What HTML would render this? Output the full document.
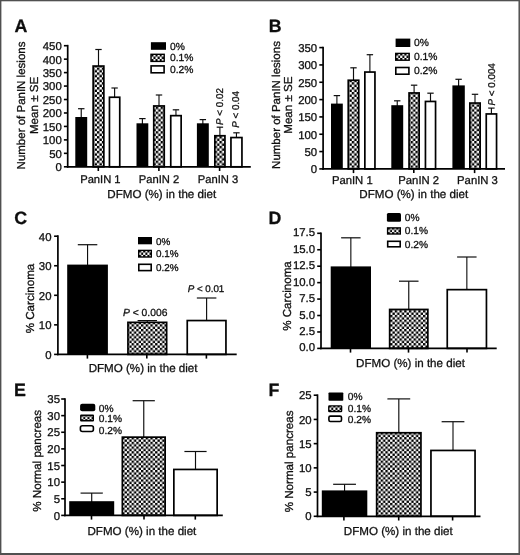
<!DOCTYPE html>
<html lang="en"><head><meta charset="utf-8"><title>Figure</title>
<style>
html,body{margin:0;padding:0;background:#fff;}
svg{display:block;font-family:"Liberation Sans", Arial, Helvetica, sans-serif;fill:#111;text-rendering:geometricPrecision;}
text{stroke:#111;stroke-width:0.3px;stroke-linejoin:round;}
</style></head><body>
<svg width="520" height="555" viewBox="0 0 520 555">
<defs><filter id="soft" x="0" y="0" width="520" height="555" filterUnits="userSpaceOnUse"><feGaussianBlur stdDeviation="0.4"/></filter><pattern id="chk" width="4.7" height="4.7" patternUnits="userSpaceOnUse"><rect width="4.7" height="4.7" fill="#fff"/><rect x="0" y="0" width="2.35" height="2.35" fill="#000"/><rect x="2.35" y="2.35" width="2.35" height="2.35" fill="#000"/></pattern><pattern id="chkA" x="92.05" y="67.5" width="4.9" height="4.9" patternUnits="userSpaceOnUse"><rect width="4.9" height="4.9" fill="#fff"/><rect x="0" y="0" width="2.45" height="2.45" fill="#000"/><rect x="2.45" y="2.45" width="2.45" height="2.45" fill="#000"/></pattern><pattern id="chk2" width="5" height="5" patternUnits="userSpaceOnUse"><rect width="5" height="5" fill="#fff"/><rect x="0" y="0" width="2.5" height="2.5" fill="#000"/><rect x="2.5" y="2.5" width="2.5" height="2.5" fill="#000"/></pattern></defs>
<rect x="0" y="0" width="520" height="555" fill="#fff"/>
<g filter="url(#soft)">
<g id="panel-A">
<text x="14.40" y="31.60" font-size="17.8" text-anchor="start" font-weight="bold">A</text>
<line x1="81.25" y1="108.70" x2="81.25" y2="118.00" stroke="#111" stroke-width="1.15"/>
<line x1="78.05" y1="108.70" x2="84.45" y2="108.70" stroke="#111" stroke-width="1.2"/>
<rect x="75.30" y="117.00" width="11.90" height="49.80" fill="#000"/>
<line x1="98.50" y1="49.50" x2="98.50" y2="66.20" stroke="#111" stroke-width="1.15"/>
<line x1="95.30" y1="49.50" x2="101.70" y2="49.50" stroke="#111" stroke-width="1.2"/>
<rect x="93.15" y="66.05" width="10.70" height="100.75" fill="url(#chkA)" stroke="#000" stroke-width="1.7"/>
<line x1="114.60" y1="88.00" x2="114.60" y2="97.40" stroke="#111" stroke-width="1.15"/>
<line x1="111.40" y1="88.00" x2="117.80" y2="88.00" stroke="#111" stroke-width="1.2"/>
<rect x="109.45" y="97.25" width="10.30" height="69.55" fill="#fff" stroke="#000" stroke-width="1.7"/>
<line x1="142.40" y1="118.60" x2="142.40" y2="124.30" stroke="#111" stroke-width="1.15"/>
<line x1="139.20" y1="118.60" x2="145.60" y2="118.60" stroke="#111" stroke-width="1.2"/>
<rect x="136.50" y="123.30" width="11.80" height="43.50" fill="#000"/>
<line x1="159.00" y1="95.00" x2="159.00" y2="106.10" stroke="#111" stroke-width="1.15"/>
<line x1="155.80" y1="95.00" x2="162.20" y2="95.00" stroke="#111" stroke-width="1.2"/>
<rect x="153.75" y="105.95" width="10.50" height="60.85" fill="url(#chkA)" stroke="#000" stroke-width="1.7"/>
<line x1="175.95" y1="109.80" x2="175.95" y2="115.80" stroke="#111" stroke-width="1.15"/>
<line x1="172.75" y1="109.80" x2="179.15" y2="109.80" stroke="#111" stroke-width="1.2"/>
<rect x="170.75" y="115.65" width="10.40" height="51.15" fill="#fff" stroke="#000" stroke-width="1.7"/>
<line x1="202.85" y1="119.60" x2="202.85" y2="124.30" stroke="#111" stroke-width="1.15"/>
<line x1="199.65" y1="119.60" x2="206.05" y2="119.60" stroke="#111" stroke-width="1.2"/>
<rect x="196.90" y="123.30" width="11.90" height="43.50" fill="#000"/>
<line x1="219.90" y1="127.20" x2="219.90" y2="135.90" stroke="#111" stroke-width="1.15"/>
<line x1="216.70" y1="127.20" x2="223.10" y2="127.20" stroke="#111" stroke-width="1.2"/>
<rect x="214.85" y="135.75" width="10.10" height="31.05" fill="url(#chkA)" stroke="#000" stroke-width="1.7"/>
<line x1="236.45" y1="132.80" x2="236.45" y2="137.70" stroke="#111" stroke-width="1.15"/>
<line x1="233.25" y1="132.80" x2="239.65" y2="132.80" stroke="#111" stroke-width="1.2"/>
<rect x="230.95" y="137.55" width="11.00" height="29.25" fill="#fff" stroke="#000" stroke-width="1.7"/>
<line x1="67.70" y1="44.85" x2="67.70" y2="167.65" stroke="#000" stroke-width="1.7"/>
<line x1="66.85" y1="166.80" x2="250.80" y2="166.80" stroke="#000" stroke-width="1.7"/>
<line x1="63.90" y1="166.80" x2="67.70" y2="166.80" stroke="#000" stroke-width="1.5999999999999999"/>
<text x="61.80" y="171.20" font-size="11.4" text-anchor="end" font-weight="normal">0</text>
<line x1="63.90" y1="153.34" x2="67.70" y2="153.34" stroke="#000" stroke-width="1.5999999999999999"/>
<text x="61.80" y="157.75" font-size="11.4" text-anchor="end" font-weight="normal">50</text>
<line x1="63.90" y1="139.89" x2="67.70" y2="139.89" stroke="#000" stroke-width="1.5999999999999999"/>
<text x="61.80" y="144.29" font-size="11.4" text-anchor="end" font-weight="normal">100</text>
<line x1="63.90" y1="126.43" x2="67.70" y2="126.43" stroke="#000" stroke-width="1.5999999999999999"/>
<text x="61.80" y="130.84" font-size="11.4" text-anchor="end" font-weight="normal">150</text>
<line x1="63.90" y1="112.98" x2="67.70" y2="112.98" stroke="#000" stroke-width="1.5999999999999999"/>
<text x="61.80" y="117.38" font-size="11.4" text-anchor="end" font-weight="normal">200</text>
<line x1="63.90" y1="99.52" x2="67.70" y2="99.52" stroke="#000" stroke-width="1.5999999999999999"/>
<text x="61.80" y="103.93" font-size="11.4" text-anchor="end" font-weight="normal">250</text>
<line x1="63.90" y1="86.07" x2="67.70" y2="86.07" stroke="#000" stroke-width="1.5999999999999999"/>
<text x="61.80" y="90.47" font-size="11.4" text-anchor="end" font-weight="normal">300</text>
<line x1="63.90" y1="72.61" x2="67.70" y2="72.61" stroke="#000" stroke-width="1.5999999999999999"/>
<text x="61.80" y="77.02" font-size="11.4" text-anchor="end" font-weight="normal">350</text>
<line x1="63.90" y1="59.16" x2="67.70" y2="59.16" stroke="#000" stroke-width="1.5999999999999999"/>
<text x="61.80" y="63.56" font-size="11.4" text-anchor="end" font-weight="normal">400</text>
<line x1="63.90" y1="45.70" x2="67.70" y2="45.70" stroke="#000" stroke-width="1.5999999999999999"/>
<text x="61.80" y="50.10" font-size="11.4" text-anchor="end" font-weight="normal">450</text>
<line x1="98.30" y1="166.80" x2="98.30" y2="171.00" stroke="#000" stroke-width="1.5999999999999999"/>
<line x1="158.90" y1="166.80" x2="158.90" y2="171.00" stroke="#000" stroke-width="1.5999999999999999"/>
<line x1="219.60" y1="166.80" x2="219.60" y2="171.00" stroke="#000" stroke-width="1.5999999999999999"/>
<text x="100.40" y="183.00" font-size="11.2" text-anchor="middle" font-weight="normal">PanIN 1</text>
<text x="159.00" y="183.00" font-size="11.2" text-anchor="middle" font-weight="normal">PanIN 2</text>
<text x="218.00" y="183.00" font-size="11.2" text-anchor="middle" font-weight="normal">PanIN 3</text>
<text x="161.80" y="197.50" font-size="11.6" text-anchor="middle" font-weight="normal">DFMO (%) in the diet</text>
<text x="24.90" y="105.50" font-size="11.5" text-anchor="middle" font-weight="normal" transform="rotate(-90 24.90 105.50)">Number of PanIN lesions</text>
<text x="37.80" y="105.40" font-size="11.6" text-anchor="middle" font-weight="normal" transform="rotate(-90 37.80 105.40)">Mean ± SE</text>
<text x="222.70" y="124.90" font-size="9.8" text-anchor="start" font-weight="normal" transform="rotate(-90 222.70 124.90)"><tspan font-style="italic">P</tspan> &lt; 0.02</text>
<text x="239.10" y="127.80" font-size="9.8" text-anchor="start" font-weight="normal" transform="rotate(-90 239.10 127.80)"><tspan font-style="italic">P</tspan> &lt; 0.04</text>
<rect x="150.90" y="42.20" width="15.10" height="7.60" rx="0" fill="#000"/>
<text x="170.00" y="50.49" font-size="10.3" text-anchor="start" font-weight="normal">0%</text>
<pattern id="lg1" x="151.30" y="54.25" width="4.2" height="4.8" patternUnits="userSpaceOnUse"><rect width="4.2" height="4.8" fill="#fff"/><rect x="0" y="0" width="2.1" height="2.4" fill="#000"/><rect x="2.1" y="2.4" width="2.1" height="2.4" fill="#000"/></pattern>
<rect x="151.00" y="54.30" width="13.20" height="7.10" rx="0" fill="url(#lg1)" stroke="#000" stroke-width="1.4"/>
<text x="170.00" y="61.49" font-size="10.3" text-anchor="start" font-weight="normal">0.1%</text>
<rect x="151.10" y="65.90" width="13.00" height="6.90" rx="0" fill="#fff" stroke="#000" stroke-width="1.6"/>
<text x="170.00" y="73.29" font-size="10.3" text-anchor="start" font-weight="normal">0.2%</text>
</g>
<g id="panel-B">
<text x="268.80" y="31.60" font-size="17.8" text-anchor="start" font-weight="bold">B</text>
<line x1="336.90" y1="95.60" x2="336.90" y2="104.60" stroke="#111" stroke-width="1.15"/>
<line x1="333.70" y1="95.60" x2="340.10" y2="95.60" stroke="#111" stroke-width="1.2"/>
<rect x="331.00" y="103.60" width="11.80" height="65.30" fill="#000"/>
<line x1="353.50" y1="67.80" x2="353.50" y2="80.40" stroke="#111" stroke-width="1.15"/>
<line x1="350.30" y1="67.80" x2="356.70" y2="67.80" stroke="#111" stroke-width="1.2"/>
<rect x="348.25" y="80.25" width="10.50" height="88.65" fill="url(#chkA)" stroke="#000" stroke-width="1.7"/>
<line x1="369.90" y1="54.70" x2="369.90" y2="72.20" stroke="#111" stroke-width="1.15"/>
<line x1="366.70" y1="54.70" x2="373.10" y2="54.70" stroke="#111" stroke-width="1.2"/>
<rect x="364.85" y="72.05" width="10.10" height="96.85" fill="#fff" stroke="#000" stroke-width="1.7"/>
<line x1="397.25" y1="100.80" x2="397.25" y2="106.20" stroke="#111" stroke-width="1.15"/>
<line x1="394.05" y1="100.80" x2="400.45" y2="100.80" stroke="#111" stroke-width="1.2"/>
<rect x="391.30" y="105.20" width="11.90" height="63.70" fill="#000"/>
<line x1="414.10" y1="85.20" x2="414.10" y2="93.10" stroke="#111" stroke-width="1.15"/>
<line x1="410.90" y1="85.20" x2="417.30" y2="85.20" stroke="#111" stroke-width="1.2"/>
<rect x="409.05" y="92.95" width="10.10" height="75.95" fill="url(#chkA)" stroke="#000" stroke-width="1.7"/>
<line x1="430.50" y1="93.20" x2="430.50" y2="101.60" stroke="#111" stroke-width="1.15"/>
<line x1="427.30" y1="93.20" x2="433.70" y2="93.20" stroke="#111" stroke-width="1.2"/>
<rect x="425.45" y="101.45" width="10.10" height="67.45" fill="#fff" stroke="#000" stroke-width="1.7"/>
<line x1="458.60" y1="79.30" x2="458.60" y2="86.40" stroke="#111" stroke-width="1.15"/>
<line x1="455.40" y1="79.30" x2="461.80" y2="79.30" stroke="#111" stroke-width="1.2"/>
<rect x="452.40" y="85.40" width="12.40" height="83.50" fill="#000"/>
<line x1="475.00" y1="94.30" x2="475.00" y2="103.20" stroke="#111" stroke-width="1.15"/>
<line x1="471.80" y1="94.30" x2="478.20" y2="94.30" stroke="#111" stroke-width="1.2"/>
<rect x="469.85" y="103.05" width="10.30" height="65.85" fill="url(#chkA)" stroke="#000" stroke-width="1.7"/>
<line x1="491.40" y1="108.10" x2="491.40" y2="114.10" stroke="#111" stroke-width="1.15"/>
<line x1="488.20" y1="108.10" x2="494.60" y2="108.10" stroke="#111" stroke-width="1.2"/>
<rect x="486.25" y="113.95" width="10.30" height="54.95" fill="#fff" stroke="#000" stroke-width="1.7"/>
<line x1="323.10" y1="46.75" x2="323.10" y2="169.75" stroke="#000" stroke-width="1.7"/>
<line x1="322.25" y1="168.90" x2="505.00" y2="168.90" stroke="#000" stroke-width="1.7"/>
<line x1="319.30" y1="168.90" x2="323.10" y2="168.90" stroke="#000" stroke-width="1.5999999999999999"/>
<text x="317.20" y="173.20" font-size="11.4" text-anchor="end" font-weight="normal">0</text>
<line x1="319.30" y1="151.57" x2="323.10" y2="151.57" stroke="#000" stroke-width="1.5999999999999999"/>
<text x="317.20" y="155.88" font-size="11.4" text-anchor="end" font-weight="normal">50</text>
<line x1="319.30" y1="134.24" x2="323.10" y2="134.24" stroke="#000" stroke-width="1.5999999999999999"/>
<text x="317.20" y="138.55" font-size="11.4" text-anchor="end" font-weight="normal">100</text>
<line x1="319.30" y1="116.91" x2="323.10" y2="116.91" stroke="#000" stroke-width="1.5999999999999999"/>
<text x="317.20" y="121.22" font-size="11.4" text-anchor="end" font-weight="normal">150</text>
<line x1="319.30" y1="99.59" x2="323.10" y2="99.59" stroke="#000" stroke-width="1.5999999999999999"/>
<text x="317.20" y="103.89" font-size="11.4" text-anchor="end" font-weight="normal">200</text>
<line x1="319.30" y1="82.26" x2="323.10" y2="82.26" stroke="#000" stroke-width="1.5999999999999999"/>
<text x="317.20" y="86.56" font-size="11.4" text-anchor="end" font-weight="normal">250</text>
<line x1="319.30" y1="64.93" x2="323.10" y2="64.93" stroke="#000" stroke-width="1.5999999999999999"/>
<text x="317.20" y="69.23" font-size="11.4" text-anchor="end" font-weight="normal">300</text>
<line x1="319.30" y1="47.60" x2="323.10" y2="47.60" stroke="#000" stroke-width="1.5999999999999999"/>
<text x="317.20" y="51.90" font-size="11.4" text-anchor="end" font-weight="normal">350</text>
<line x1="353.50" y1="168.90" x2="353.50" y2="173.10" stroke="#000" stroke-width="1.5999999999999999"/>
<line x1="413.80" y1="168.90" x2="413.80" y2="173.10" stroke="#000" stroke-width="1.5999999999999999"/>
<line x1="474.60" y1="168.90" x2="474.60" y2="173.10" stroke="#000" stroke-width="1.5999999999999999"/>
<text x="352.30" y="183.80" font-size="11.3" text-anchor="middle" font-weight="normal">PanIN 1</text>
<text x="418.70" y="183.80" font-size="11.3" text-anchor="middle" font-weight="normal">PanIN 2</text>
<text x="477.50" y="183.80" font-size="11.3" text-anchor="middle" font-weight="normal">PanIN 3</text>
<text x="413.80" y="197.70" font-size="11.6" text-anchor="middle" font-weight="normal">DFMO (%) in the diet</text>
<text x="279.60" y="105.00" font-size="11.5" text-anchor="middle" font-weight="normal" transform="rotate(-90 279.60 105.00)">Number of PanIN lesions</text>
<text x="292.30" y="105.10" font-size="11.6" text-anchor="middle" font-weight="normal" transform="rotate(-90 292.30 105.10)">Mean ± SE</text>
<text x="494.90" y="105.40" font-size="9.8" text-anchor="start" font-weight="normal" transform="rotate(-90 494.90 105.40)"><tspan font-style="italic">P</tspan> &lt; 0.004</text>
<rect x="395.60" y="38.60" width="14.70" height="8.40" rx="0" fill="#000"/>
<text x="414.00" y="46.29" font-size="10.3" text-anchor="start" font-weight="normal">0%</text>
<pattern id="lg2" x="396.00" y="53.20" width="4.2" height="4.8" patternUnits="userSpaceOnUse"><rect width="4.2" height="4.8" fill="#fff"/><rect x="0" y="0" width="2.1" height="2.4" fill="#000"/><rect x="2.1" y="2.4" width="2.1" height="2.4" fill="#000"/></pattern>
<rect x="395.70" y="53.40" width="13.50" height="6.80" rx="0" fill="url(#lg2)" stroke="#000" stroke-width="1.4"/>
<text x="414.00" y="60.29" font-size="10.3" text-anchor="start" font-weight="normal">0.1%</text>
<rect x="395.80" y="67.50" width="13.10" height="6.70" rx="0" fill="#fff" stroke="#000" stroke-width="1.6"/>
<text x="414.00" y="74.29" font-size="10.3" text-anchor="start" font-weight="normal">0.2%</text>
</g>
<g id="panel-C">
<text x="14.20" y="223.70" font-size="17.8" text-anchor="start" font-weight="bold">C</text>
<line x1="87.55" y1="244.70" x2="87.55" y2="265.60" stroke="#111" stroke-width="1.15"/>
<line x1="77.80" y1="244.70" x2="97.30" y2="244.70" stroke="#111" stroke-width="1.2"/>
<rect x="67.20" y="264.60" width="40.70" height="89.80" fill="#000"/>
<line x1="147.30" y1="320.60" x2="147.30" y2="322.50" stroke="#111" stroke-width="1.15"/>
<line x1="137.55" y1="320.60" x2="157.05" y2="320.60" stroke="#111" stroke-width="1.2"/>
<rect x="127.95" y="322.35" width="38.70" height="32.05" fill="url(#chk)" stroke="#000" stroke-width="1.7"/>
<line x1="206.60" y1="298.00" x2="206.60" y2="320.70" stroke="#111" stroke-width="1.15"/>
<line x1="196.85" y1="298.00" x2="216.35" y2="298.00" stroke="#111" stroke-width="1.2"/>
<rect x="187.25" y="320.55" width="38.70" height="33.85" fill="#fff" stroke="#000" stroke-width="1.7"/>
<line x1="57.90" y1="235.35" x2="57.90" y2="355.25" stroke="#000" stroke-width="1.7"/>
<line x1="57.05" y1="354.40" x2="236.70" y2="354.40" stroke="#000" stroke-width="1.7"/>
<line x1="54.10" y1="354.40" x2="57.90" y2="354.40" stroke="#000" stroke-width="1.5999999999999999"/>
<text x="51.50" y="358.90" font-size="11.4" text-anchor="end" font-weight="normal">0</text>
<line x1="54.10" y1="324.85" x2="57.90" y2="324.85" stroke="#000" stroke-width="1.5999999999999999"/>
<text x="51.50" y="329.35" font-size="11.4" text-anchor="end" font-weight="normal">10</text>
<line x1="54.10" y1="295.30" x2="57.90" y2="295.30" stroke="#000" stroke-width="1.5999999999999999"/>
<text x="51.50" y="299.80" font-size="11.4" text-anchor="end" font-weight="normal">20</text>
<line x1="54.10" y1="265.75" x2="57.90" y2="265.75" stroke="#000" stroke-width="1.5999999999999999"/>
<text x="51.50" y="270.25" font-size="11.4" text-anchor="end" font-weight="normal">30</text>
<line x1="54.10" y1="236.20" x2="57.90" y2="236.20" stroke="#000" stroke-width="1.5999999999999999"/>
<text x="51.50" y="240.70" font-size="11.4" text-anchor="end" font-weight="normal">40</text>
<line x1="87.40" y1="354.40" x2="87.40" y2="358.60" stroke="#000" stroke-width="1.5999999999999999"/>
<line x1="146.80" y1="354.40" x2="146.80" y2="358.60" stroke="#000" stroke-width="1.5999999999999999"/>
<line x1="206.40" y1="354.40" x2="206.40" y2="358.60" stroke="#000" stroke-width="1.5999999999999999"/>
<text x="143.10" y="371.60" font-size="11.6" text-anchor="middle" font-weight="normal">DFMO (%) in the diet</text>
<text x="33.90" y="298.50" font-size="11.6" text-anchor="middle" font-weight="normal" transform="rotate(-90 33.90 298.50)">% Carcinoma</text>
<text x="123.00" y="315.50" font-size="10.3" text-anchor="start" font-weight="normal"><tspan font-style="italic">P</tspan> &lt; 0.006</text>
<text x="187.70" y="291.60" font-size="9.75" text-anchor="start" font-weight="normal"><tspan font-style="italic">P</tspan> &lt; 0.01</text>
<rect x="138.00" y="237.00" width="14.00" height="7.30" rx="0" fill="#000"/>
<text x="156.10" y="244.64" font-size="9.9" text-anchor="start" font-weight="normal">0%</text>
<pattern id="lg3" x="139.00" y="250.10" width="4.2" height="4.8" patternUnits="userSpaceOnUse"><rect width="4.2" height="4.8" fill="#fff"/><rect x="0" y="0" width="2.1" height="2.4" fill="#000"/><rect x="2.1" y="2.4" width="2.1" height="2.4" fill="#000"/></pattern>
<rect x="138.70" y="250.40" width="12.60" height="6.60" rx="0" fill="url(#lg3)" stroke="#000" stroke-width="1.4"/>
<text x="156.10" y="257.24" font-size="9.9" text-anchor="start" font-weight="normal">0.1%</text>
<rect x="138.80" y="264.30" width="12.40" height="6.30" rx="0" fill="#fff" stroke="#000" stroke-width="1.6"/>
<text x="156.10" y="270.84" font-size="9.9" text-anchor="start" font-weight="normal">0.2%</text>
</g>
<g id="panel-D">
<text x="268.60" y="223.50" font-size="17.8" text-anchor="start" font-weight="bold">D</text>
<line x1="350.85" y1="237.80" x2="350.85" y2="267.40" stroke="#111" stroke-width="1.15"/>
<line x1="341.10" y1="237.80" x2="360.60" y2="237.80" stroke="#111" stroke-width="1.2"/>
<rect x="330.70" y="266.40" width="40.30" height="82.00" fill="#000"/>
<line x1="408.75" y1="281.20" x2="408.75" y2="309.60" stroke="#111" stroke-width="1.15"/>
<line x1="399.00" y1="281.20" x2="418.50" y2="281.20" stroke="#111" stroke-width="1.2"/>
<rect x="389.65" y="309.45" width="38.20" height="38.95" fill="url(#chk)" stroke="#000" stroke-width="1.7"/>
<line x1="466.85" y1="257.00" x2="466.85" y2="289.80" stroke="#111" stroke-width="1.15"/>
<line x1="457.10" y1="257.00" x2="476.60" y2="257.00" stroke="#111" stroke-width="1.2"/>
<rect x="447.25" y="289.65" width="39.20" height="58.75" fill="#fff" stroke="#000" stroke-width="1.7"/>
<line x1="321.00" y1="232.45" x2="321.00" y2="349.25" stroke="#000" stroke-width="1.7"/>
<line x1="320.15" y1="348.40" x2="496.70" y2="348.40" stroke="#000" stroke-width="1.7"/>
<line x1="317.20" y1="348.40" x2="321.00" y2="348.40" stroke="#000" stroke-width="1.5999999999999999"/>
<text x="315.10" y="351.40" font-size="11.4" text-anchor="end" font-weight="normal">0.0</text>
<line x1="317.20" y1="331.96" x2="321.00" y2="331.96" stroke="#000" stroke-width="1.5999999999999999"/>
<text x="315.10" y="334.96" font-size="11.4" text-anchor="end" font-weight="normal">2.5</text>
<line x1="317.20" y1="315.51" x2="321.00" y2="315.51" stroke="#000" stroke-width="1.5999999999999999"/>
<text x="315.10" y="318.52" font-size="11.4" text-anchor="end" font-weight="normal">5.0</text>
<line x1="317.20" y1="299.07" x2="321.00" y2="299.07" stroke="#000" stroke-width="1.5999999999999999"/>
<text x="315.10" y="302.08" font-size="11.4" text-anchor="end" font-weight="normal">7.5</text>
<line x1="317.20" y1="282.63" x2="321.00" y2="282.63" stroke="#000" stroke-width="1.5999999999999999"/>
<text x="315.10" y="285.63" font-size="11.4" text-anchor="end" font-weight="normal">10.0</text>
<line x1="317.20" y1="266.19" x2="321.00" y2="266.19" stroke="#000" stroke-width="1.5999999999999999"/>
<text x="315.10" y="269.19" font-size="11.4" text-anchor="end" font-weight="normal">12.5</text>
<line x1="317.20" y1="249.74" x2="321.00" y2="249.74" stroke="#000" stroke-width="1.5999999999999999"/>
<text x="315.10" y="252.75" font-size="11.4" text-anchor="end" font-weight="normal">15.0</text>
<line x1="317.20" y1="233.30" x2="321.00" y2="233.30" stroke="#000" stroke-width="1.5999999999999999"/>
<text x="315.10" y="236.30" font-size="11.4" text-anchor="end" font-weight="normal">17.5</text>
<line x1="350.50" y1="348.40" x2="350.50" y2="352.60" stroke="#000" stroke-width="1.5999999999999999"/>
<line x1="408.50" y1="348.40" x2="408.50" y2="352.60" stroke="#000" stroke-width="1.5999999999999999"/>
<line x1="467.00" y1="348.40" x2="467.00" y2="352.60" stroke="#000" stroke-width="1.5999999999999999"/>
<text x="410.50" y="366.70" font-size="11.6" text-anchor="middle" font-weight="normal">DFMO (%) in the diet</text>
<text x="290.70" y="296.00" font-size="11.6" text-anchor="middle" font-weight="normal" transform="rotate(-90 290.70 296.00)">% Carcinoma</text>
<rect x="386.90" y="213.10" width="14.10" height="8.60" rx="1.5" fill="#000"/>
<text x="404.80" y="221.15" font-size="10.2" text-anchor="start" font-weight="normal">0%</text>
<pattern id="lg4" x="387.90" y="227.35" width="4.2" height="4.8" patternUnits="userSpaceOnUse"><rect width="4.2" height="4.8" fill="#fff"/><rect x="0" y="0" width="2.1" height="2.4" fill="#000"/><rect x="2.1" y="2.4" width="2.1" height="2.4" fill="#000"/></pattern>
<rect x="387.60" y="227.90" width="12.70" height="6.10" rx="0" fill="url(#lg4)" stroke="#000" stroke-width="1.4"/>
<text x="404.80" y="234.25" font-size="10.2" text-anchor="start" font-weight="normal">0.1%</text>
<rect x="387.70" y="241.30" width="12.50" height="5.50" rx="0" fill="#fff" stroke="#000" stroke-width="1.6"/>
<text x="404.80" y="247.75" font-size="10.2" text-anchor="start" font-weight="normal">0.2%</text>
</g>
<g id="panel-E">
<text x="14.00" y="395.70" font-size="17.8" text-anchor="start" font-weight="bold">E</text>
<line x1="91.70" y1="493.10" x2="91.70" y2="502.20" stroke="#111" stroke-width="1.15"/>
<line x1="80.60" y1="493.10" x2="102.80" y2="493.10" stroke="#111" stroke-width="1.2"/>
<rect x="69.20" y="501.20" width="45.00" height="14.20" fill="#000"/>
<line x1="143.75" y1="400.70" x2="143.75" y2="437.30" stroke="#111" stroke-width="1.15"/>
<line x1="132.65" y1="400.70" x2="154.85" y2="400.70" stroke="#111" stroke-width="1.2"/>
<rect x="122.35" y="437.15" width="42.80" height="78.25" fill="url(#chk)" stroke="#000" stroke-width="1.7"/>
<line x1="195.50" y1="451.50" x2="195.50" y2="469.60" stroke="#111" stroke-width="1.15"/>
<line x1="184.40" y1="451.50" x2="206.60" y2="451.50" stroke="#111" stroke-width="1.2"/>
<rect x="173.85" y="469.45" width="43.30" height="45.95" fill="#fff" stroke="#000" stroke-width="1.7"/>
<line x1="65.00" y1="398.15" x2="65.00" y2="516.25" stroke="#000" stroke-width="1.7"/>
<line x1="64.15" y1="515.40" x2="222.80" y2="515.40" stroke="#000" stroke-width="1.7"/>
<line x1="61.20" y1="515.40" x2="65.00" y2="515.40" stroke="#000" stroke-width="1.5999999999999999"/>
<text x="60.00" y="519.50" font-size="11.4" text-anchor="end" font-weight="normal">0</text>
<line x1="61.20" y1="498.77" x2="65.00" y2="498.77" stroke="#000" stroke-width="1.5999999999999999"/>
<text x="60.00" y="502.88" font-size="11.4" text-anchor="end" font-weight="normal">5</text>
<line x1="61.20" y1="482.14" x2="65.00" y2="482.14" stroke="#000" stroke-width="1.5999999999999999"/>
<text x="60.00" y="486.25" font-size="11.4" text-anchor="end" font-weight="normal">10</text>
<line x1="61.20" y1="465.51" x2="65.00" y2="465.51" stroke="#000" stroke-width="1.5999999999999999"/>
<text x="60.00" y="469.62" font-size="11.4" text-anchor="end" font-weight="normal">15</text>
<line x1="61.20" y1="448.89" x2="65.00" y2="448.89" stroke="#000" stroke-width="1.5999999999999999"/>
<text x="60.00" y="452.99" font-size="11.4" text-anchor="end" font-weight="normal">20</text>
<line x1="61.20" y1="432.26" x2="65.00" y2="432.26" stroke="#000" stroke-width="1.5999999999999999"/>
<text x="60.00" y="436.36" font-size="11.4" text-anchor="end" font-weight="normal">25</text>
<line x1="61.20" y1="415.63" x2="65.00" y2="415.63" stroke="#000" stroke-width="1.5999999999999999"/>
<text x="60.00" y="419.73" font-size="11.4" text-anchor="end" font-weight="normal">30</text>
<line x1="61.20" y1="399.00" x2="65.00" y2="399.00" stroke="#000" stroke-width="1.5999999999999999"/>
<text x="60.00" y="403.10" font-size="11.4" text-anchor="end" font-weight="normal">35</text>
<line x1="91.50" y1="515.40" x2="91.50" y2="519.60" stroke="#000" stroke-width="1.5999999999999999"/>
<line x1="144.00" y1="515.40" x2="144.00" y2="519.60" stroke="#000" stroke-width="1.5999999999999999"/>
<line x1="195.30" y1="515.40" x2="195.30" y2="519.60" stroke="#000" stroke-width="1.5999999999999999"/>
<text x="141.90" y="534.80" font-size="11.6" text-anchor="middle" font-weight="normal">DFMO (%) in the diet</text>
<text x="41.20" y="460.80" font-size="11.6" text-anchor="middle" font-weight="normal" transform="rotate(-90 41.20 460.80)">% Normal pancreas</text>
<rect x="80.10" y="403.80" width="15.20" height="7.50" rx="2" fill="#000"/>
<text x="98.80" y="411.75" font-size="10.2" text-anchor="start" font-weight="normal">0%</text>
<pattern id="lg5" x="81.10" y="414.35" width="4.2" height="4.8" patternUnits="userSpaceOnUse"><rect width="4.2" height="4.8" fill="#fff"/><rect x="0" y="0" width="2.1" height="2.4" fill="#000"/><rect x="2.1" y="2.4" width="2.1" height="2.4" fill="#000"/></pattern>
<rect x="80.80" y="415.20" width="12.50" height="5.50" rx="0.3" fill="url(#lg5)" stroke="#000" stroke-width="1.4"/>
<text x="98.80" y="422.15" font-size="10.2" text-anchor="start" font-weight="normal">0.1%</text>
<rect x="80.40" y="425.80" width="13.00" height="5.70" rx="2" fill="#fff" stroke="#000" stroke-width="1.6"/>
<text x="98.80" y="433.95" font-size="10.2" text-anchor="start" font-weight="normal">0.2%</text>
</g>
<g id="panel-F">
<text x="268.60" y="395.70" font-size="17.8" text-anchor="start" font-weight="bold">F</text>
<line x1="344.55" y1="484.30" x2="344.55" y2="491.40" stroke="#111" stroke-width="1.15"/>
<line x1="333.15" y1="484.30" x2="355.95" y2="484.30" stroke="#111" stroke-width="1.2"/>
<rect x="321.80" y="490.40" width="45.50" height="25.90" fill="#000"/>
<line x1="398.80" y1="398.90" x2="398.80" y2="432.90" stroke="#111" stroke-width="1.15"/>
<line x1="387.40" y1="398.90" x2="410.20" y2="398.90" stroke="#111" stroke-width="1.2"/>
<rect x="376.65" y="432.75" width="44.30" height="83.55" fill="url(#chk)" stroke="#000" stroke-width="1.7"/>
<line x1="453.00" y1="421.70" x2="453.00" y2="450.60" stroke="#111" stroke-width="1.15"/>
<line x1="441.60" y1="421.70" x2="464.40" y2="421.70" stroke="#111" stroke-width="1.2"/>
<rect x="430.95" y="450.45" width="44.10" height="65.85" fill="#fff" stroke="#000" stroke-width="1.7"/>
<line x1="317.50" y1="394.35" x2="317.50" y2="517.15" stroke="#000" stroke-width="1.7"/>
<line x1="316.65" y1="516.30" x2="480.50" y2="516.30" stroke="#000" stroke-width="1.7"/>
<line x1="313.70" y1="516.30" x2="317.50" y2="516.30" stroke="#000" stroke-width="1.5999999999999999"/>
<text x="311.60" y="520.40" font-size="11.4" text-anchor="end" font-weight="normal">0</text>
<line x1="313.70" y1="492.08" x2="317.50" y2="492.08" stroke="#000" stroke-width="1.5999999999999999"/>
<text x="311.60" y="496.18" font-size="11.4" text-anchor="end" font-weight="normal">5</text>
<line x1="313.70" y1="467.86" x2="317.50" y2="467.86" stroke="#000" stroke-width="1.5999999999999999"/>
<text x="311.60" y="471.96" font-size="11.4" text-anchor="end" font-weight="normal">10</text>
<line x1="313.70" y1="443.64" x2="317.50" y2="443.64" stroke="#000" stroke-width="1.5999999999999999"/>
<text x="311.60" y="447.74" font-size="11.4" text-anchor="end" font-weight="normal">15</text>
<line x1="313.70" y1="419.42" x2="317.50" y2="419.42" stroke="#000" stroke-width="1.5999999999999999"/>
<text x="311.60" y="423.52" font-size="11.4" text-anchor="end" font-weight="normal">20</text>
<line x1="313.70" y1="395.20" x2="317.50" y2="395.20" stroke="#000" stroke-width="1.5999999999999999"/>
<text x="311.60" y="399.30" font-size="11.4" text-anchor="end" font-weight="normal">25</text>
<line x1="343.90" y1="516.30" x2="343.90" y2="520.50" stroke="#000" stroke-width="1.5999999999999999"/>
<line x1="398.70" y1="516.30" x2="398.70" y2="520.50" stroke="#000" stroke-width="1.5999999999999999"/>
<line x1="452.60" y1="516.30" x2="452.60" y2="520.50" stroke="#000" stroke-width="1.5999999999999999"/>
<text x="398.30" y="534.80" font-size="11.6" text-anchor="middle" font-weight="normal">DFMO (%) in the diet</text>
<text x="293.30" y="461.40" font-size="11.6" text-anchor="middle" font-weight="normal" transform="rotate(-90 293.30 461.40)">% Normal pancreas</text>
<rect x="328.50" y="392.50" width="14.80" height="8.30" rx="0.8" fill="#000"/>
<text x="347.80" y="400.15" font-size="10.2" text-anchor="start" font-weight="normal">0%</text>
<pattern id="lg6" x="329.10" y="405.10" width="4.2" height="4.8" patternUnits="userSpaceOnUse"><rect width="4.2" height="4.8" fill="#fff"/><rect x="0" y="0" width="2.1" height="2.4" fill="#000"/><rect x="2.1" y="2.4" width="2.1" height="2.4" fill="#000"/></pattern>
<rect x="328.80" y="405.90" width="12.80" height="5.60" rx="0.6" fill="url(#lg6)" stroke="#000" stroke-width="1.4"/>
<text x="347.80" y="412.35" font-size="10.2" text-anchor="start" font-weight="normal">0.1%</text>
<rect x="328.90" y="416.10" width="12.60" height="5.40" rx="1.5" fill="#fff" stroke="#000" stroke-width="1.6"/>
<text x="347.80" y="423.15" font-size="10.2" text-anchor="start" font-weight="normal">0.2%</text>
</g>
</g>
<rect x="0" y="0" width="520" height="1.3" fill="#505050"/><rect x="0" y="0" width="1.4" height="555" fill="#505050"/><rect x="518.45" y="0" width="1.55" height="555" fill="#555"/><rect x="0" y="553" width="520" height="2" fill="#505050"/>
</svg>
</body></html>
